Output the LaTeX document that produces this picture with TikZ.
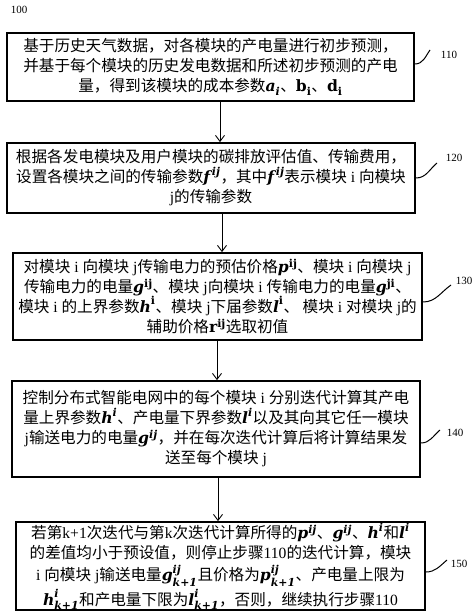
\documentclass[tikz,border=0pt]{standalone}
\usepackage{amsmath}
\usepackage[no-math]{fontspec}
\setmainfont{Liberation Serif}
\newfontfamily\cjk{Noto Sans CJK SC}
\newfontfamily\lat{Liberation Serif}
\newfontfamily\mvar{DejaVu Serif}
\newcommand\Lt[1]{{\lat #1}}
\newcommand\BI[1]{\text{\mvar\bfseries\itshape #1}}
\newcommand\BU[1]{\text{\mvar\bfseries #1}}
\usetikzlibrary{arrows.meta}
\tikzset{
  box/.style={draw, line width=1.8pt, align=center, inner sep=0pt,
    font=\fontsize{15.6}{20}\selectfont\cjk},
  arr/.style={line width=0.9pt, -{Straight Barb[length=6pt,width=9pt,line width=0.9pt]}},
  lead/.style={line width=1pt},
  lbl/.style={font=\fontsize{11}{13}\selectfont\lat, inner sep=0pt}
}
\begin{document}
\begin{tikzpicture}[x=1pt,y=-1pt]
\useasboundingbox (0,0) rectangle (474,615);
\node[lbl] (l100) at (19,10) {100};

\node[box, minimum width=407pt, minimum height=68pt] (b1) at (210.5,67)
 {基于历史天气数据，对各模块的产电量进行初步预测，\\
  并基于每个模块的历史发电数据和所述初步预测的产电\\
  量，得到该模块的成本参数$\BI{a}_{\BI{i}}$、$\BU{b}_{\BU{i}}$、$\BU{d}_{\BU{i}}$};

\node[box, minimum width=408pt, minimum height=70pt] (b2) at (211,178)
 {根据各发电模块及用户模块的碳排放评估值、传输费用，\\
  设置各模块之间的传输参数$\BI{f}^{\,\BI{ij}}$，其中$\BI{f}^{\,\BI{ij}}$表示模块\Lt{ i }向模块\\
  \Lt{j}的传输参数};

\node[box, minimum width=409pt, minimum height=87pt] (b3) at (217.5,296.5)
 {对模块\Lt{ i }向模块\Lt{ j}传输电力的预估价格$\BI{p}^{\BU{ij}}$、模块\Lt{ i }向模块\Lt{ j}\\
  传输电力的电量$\BI{g}^{\BU{ij}}$、模块\Lt{ j}向模块\Lt{ i }传输电力的电量$\BI{g}^{\BU{ji}}$、\\
  模块\Lt{ i }的上界参数$\BI{h}^{\BU{i}}$、模块\Lt{ j}下届参数$\BI{l}^{\BU{i}}$、 模块\Lt{ i }对模块\Lt{ j}的\\
  辅助价格$\BU{r}^{\BU{ij}}$选取初值};

\node[box, minimum width=408pt, minimum height=96pt] (b4) at (216,429)
 {控制分布式智能电网中的每个模块\Lt{ i }分别迭代计算其产电\\
  量上界参数$\BI{h}^{\BI{i}}$、产电量下界参数$\BI{l}^{\BI{i}}$以及其向其它任一模块\\
  \Lt{j}输送电力的电量$\BI{g}^{\BI{ij}}$，并在每次迭代计算后将计算结果发\\
  送至每个模块\Lt{ j}};

\node[box, minimum width=409pt, minimum height=88pt] (b5) at (220.5,566)
 {若第\Lt{k+1}次迭代与第\Lt{k}次迭代计算所得的$\BI{p}^{\BI{ij}}$、$\BI{g}^{\BI{ij}}$、$\BI{h}^{\BI{i}}$和$\BI{l}^{\BI{i}}$\\
  的差值均小于预设值，则停止步骤\Lt{110}的迭代计算，模块\\[2pt]
  \Lt{i }向模块\Lt{ j}输送电量$\BI{g}^{\BI{ij}}_{\BI{k+1}}$且价格为$\BI{p}^{\BI{ij}}_{\BI{k+1}}$、产电量上限为\\[2pt]
  $\BI{h}^{\BI{i}}_{\BI{k+1}}$和产电量下限为$\BI{l}^{\BI{i}}_{\BI{k+1}}$，否则，继续执行步骤\Lt{110}};

% connectors
\coordinate (xa) at (220,0);
\coordinate (xb) at (222,0);
\coordinate (xc) at (217,0);
\coordinate (xd) at (218,0);
\draw[arr] (b1.south -| xa) -- (b2.north -| xa);
\draw[arr] (b2.south -| xb) -- (b3.north -| xb);
\draw[arr] (b3.south -| xc) -- (b4.north -| xc);
\draw[arr] (b4.south -| xd) -- (b5.north -| xd);

% labels with leaders
\node[lbl] (l110) at (449,55) {110};
\node[lbl] (l120) at (454,158) {120};
\node[lbl] (l130) at (464,281) {130};
\node[lbl] (l140) at (455,433) {140};
\node[lbl] (l150) at (459,564) {150};
\coordinate (e110) at (430,50);
\coordinate (e120) at (437,163);
\coordinate (e130) at (451,285);
\coordinate (e140) at (440,430);
\coordinate (e150) at (447,560);
\draw[lead] (b1.east |- 0,64) to[out=0,in=-125] (e110);
\draw[lead] (b2.east |- 0,178) to[out=0,in=-140] (e120);
\draw[lead] (b3.east |- 0,302) to[out=0,in=-145] (e130);
\draw[lead] (b4.east |- 0,443) to[out=0,in=-140] (e140);
\draw[lead] (b5.east |- 0,572) to[out=0,in=-140] (e150);
\end{tikzpicture}
\end{document}
